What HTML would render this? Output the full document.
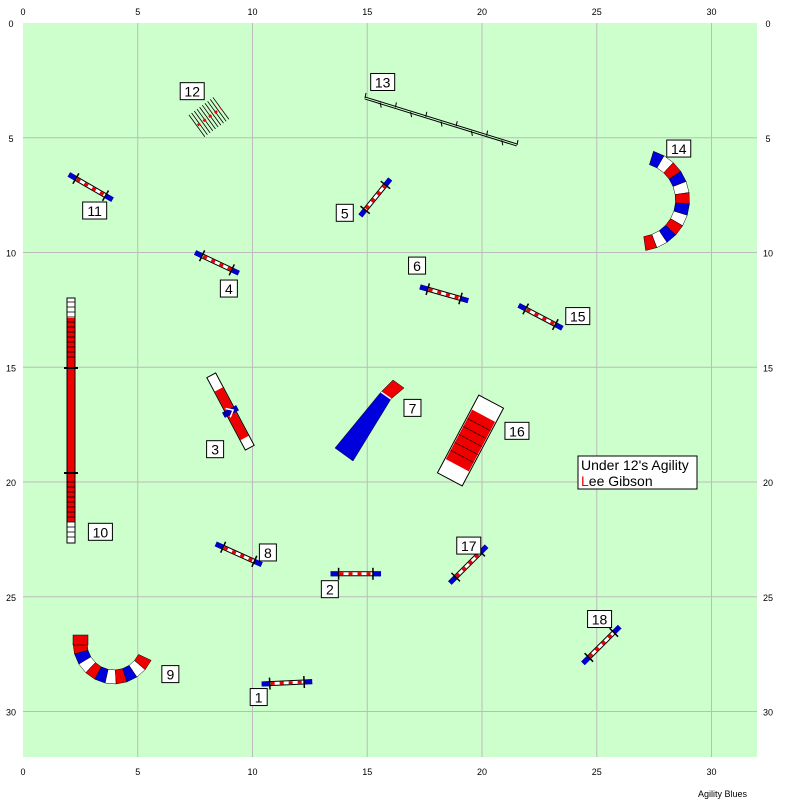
<!DOCTYPE html>
<html><head><meta charset="utf-8"><style>
html,body{margin:0;padding:0;background:#fff;}
svg{display:block;font-family:"Liberation Sans",sans-serif;}
</style></head><body>
<svg id="c" width="800" height="800" viewBox="0 0 800 800">
<rect x="23" y="23" width="734" height="734" fill="#ccffcc"/>
<g id="grid"></g><g id="ticks"></g><g id="obs"></g><g id="labels"></g>
<g>
<rect x="578" y="456" width="119" height="33" fill="#fff" stroke="#000"/>
<text x="581" y="470" font-size="14" fill="#000">Under 12's Agility</text>
<text x="581" y="486" font-size="14" fill="#000"><tspan fill="#e00">L</tspan>ee Gibson</text>
</g>
<text x="698" y="797" font-size="9" fill="#000">Agility Blues</text>
</svg>
<script>
const ticks=[0,5,10,15,20,25,30];
const jumpNums=["11","4","5","6","15","8","2","17","18","1"];
const jumpStart=[[2.0,6.6],[7.5,10.0],[14.7,8.4],[17.3,11.5],[21.6,12.3],[8.4,22.7],[13.4,24.0],[18.6,24.4],[24.4,27.9],[10.4,28.8]];
const jumpEnd=[[3.9,7.7],[9.4,10.9],[16.0,6.8],[19.4,12.1],[23.5,13.3],[10.4,23.6],[15.6,24.0],[20.2,22.8],[26.0,26.3],[12.6,28.7]];
const labelNums=["12","13","14","11","5","4","6","15","3","7","16","10","8","2","17","18","9","1"];
const labelPos=[[6.85,2.6],[15.15,2.2],[28.05,5.1],[2.6,7.8],[13.65,7.9],[8.6,11.2],[16.8,10.2],[23.65,12.4],[8.0,18.2],[16.6,16.4],[21.0,17.4],[2.85,21.8],[10.3,22.7],[13.0,24.3],[18.9,22.4],[24.6,25.6],[6.05,28.0],[9.9,29.0]];
const X0=23,Y0=23,S=22.95;
const sx=v=>X0+v*S, sy=v=>Y0+v*S;
const NS="http://www.w3.org/2000/svg";
function mk(tag,at,par){const e=document.createElementNS(NS,tag);for(const k in at)e.setAttribute(k,at[k]);par.appendChild(e);return e;}
const grid=document.getElementById('grid'),tk=document.getElementById('ticks'),obs=document.getElementById('obs'),lab=document.getElementById('labels');
ticks.forEach(t=>{
 if(t>0){const a=mk('line',{x1:sx(t),x2:sx(t),y1:23,y2:757,stroke:'#bbb'},grid);
 const b=mk('line',{x1:23,x2:757,y1:sy(t),y2:sy(t),stroke:'#bbb'},grid);}
 [[sx(t),15,'middle','x-tick-top'],[sx(t),775,'middle','x-tick-bottom']].forEach(p=>{const e=mk('text',{x:p[0],y:p[1],'font-size':9,'text-anchor':p[2]},tk);e.textContent=t;});
 [[11,'y-tick-left'],[768,'y-tick-right']].forEach(p=>{const e=mk('text',{x:p[0],y:sy(t)+4,'font-size':9,'text-anchor':'middle'},tk);e.textContent=t;});
});
function lerp(a,b,t){return [a[0]+(b[0]-a[0])*t,a[1]+(b[1]-a[1])*t];}
jumpStart.forEach((s,i)=>{
 const e=jumpEnd[i],p1=[sx(s[0]),sy(s[1])],p2=[sx(e[0]),sy(e[1])];
 const g=mk('g',{},obs);
 const L=Math.hypot(p2[0]-p1[0],p2[1]-p1[1]),ux=(p2[0]-p1[0])/L,uy=(p2[1]-p1[1])/L;
 mk('line',{x1:p1[0],y1:p1[1],x2:p2[0],y2:p2[1],stroke:'#000','stroke-width':5},g);
 mk('line',{x1:p1[0],y1:p1[1],x2:p2[0],y2:p2[1],stroke:'#fff','stroke-width':3},g);
 mk('line',{x1:p1[0],y1:p1[1],x2:p2[0],y2:p2[1],stroke:'#e00','stroke-width':3,'stroke-dasharray':'4 5'},g);
 const a=lerp(p1,p2,0.16),b=lerp(p2,p1,0.16);
 mk('line',{x1:p1[0],y1:p1[1],x2:a[0],y2:a[1],stroke:'#0000cc','stroke-width':5},g);
 mk('line',{x1:p2[0],y1:p2[1],x2:b[0],y2:b[1],stroke:'#0000cc','stroke-width':5},g);
 [a,b].forEach(q=>mk('line',{x1:q[0]-uy*6,y1:q[1]+ux*6,x2:q[0]+uy*6,y2:q[1]-ux*6,stroke:'#000','stroke-width':1.5},g));
});
const cols=['#0000dd','#fff','#ee0000'];
function tunnel(name,cx,cy,r,a0,a1,n,start){
 const g=mk('g',{},obs);
 const w=7;
 for(let k=0;k<n;k++){const t0=(a0+(a1-a0)*k/n)*Math.PI/180,t1=(a0+(a1-a0)*(k+1)/n)*Math.PI/180;
  const P=(t,rr)=>[cx+rr*Math.cos(t),cy+rr*Math.sin(t)];
  const pts=[P(t0,r-w),P(t0,r+w),P(t1,r+w),P(t1,r-w)].map(p=>p.join(',')).join(' ');
  mk('polygon',{points:pts,fill:cols[(k+start)%3],stroke:'#000','stroke-width':0.5},g);}
}
tunnel('tunnel-14',638.6,200,44,-73,82,12,0);
tunnel('tunnel-9',114,643,34,180,25,10,2);
(function(){const g=mk('g',{},obs);
mk('rect',{x:73,y:635,width:15,height:10,fill:'#ee0000',stroke:'#000','stroke-width':0.5},g);})();
(function(){const g=mk('g',{},obs);
mk('rect',{x:67,y:298,width:8,height:245,fill:'#fff',stroke:'#000','stroke-width':1},g);
mk('rect',{x:67.5,y:318,width:7,height:204,fill:'#ee0000'},g);
for(let y=302;y<541;y+=5){if(y>360&&y<480)continue;mk('line',{x1:67,x2:75,y1:y,y2:y,stroke:'#000','stroke-width':0.8},g);}
[368,473].forEach(y=>mk('line',{x1:64,x2:78,y1:y,y2:y,stroke:'#000','stroke-width':2},g));})();
(function(){const g=mk('g',{},obs);
const p1=[365,98],p2=[517,145];
mk('line',{x1:p1[0],y1:p1[1],x2:p2[0],y2:p2[1],stroke:'#000','stroke-width':3},g);
mk('line',{x1:p1[0],y1:p1[1],x2:p2[0],y2:p2[1],stroke:'#ccffcc','stroke-width':1},g);
for(let k=0;k<=10;k++){const q=lerp(p1,p2,k/10),d=(k%2?5:-5);mk('line',{x1:q[0],y1:q[1],x2:q[0]+1,y2:q[1]+d,stroke:'#000','stroke-width':1},g);}})();
(function(){const g=mk('g',{transform:'translate(209,117) rotate(-36)'},obs);
for(let k=0;k<10;k++){const x=-15+k*3.3;mk('line',{x1:x,y1:-13.5,x2:x,y2:13.5,stroke:'#000','stroke-width':0.8},g);}
mk('line',{x1:-14,y1:0,x2:15,y2:0,stroke:'#e00','stroke-width':2.5,'stroke-dasharray':'3 4'},g);})();
(function(){const g=mk('g',{transform:'translate(230.5,411.5) rotate(62)'},obs);
mk('rect',{x:-41,y:-5,width:82,height:10,fill:'#fff',stroke:'#000'},g);
mk('rect',{x:-25,y:-4.5,width:55,height:9,fill:'#ee0000'},g);
mk('rect',{x:-3,y:-8,width:6,height:16,fill:'#0000aa'},g);
mk('path',{d:'M-5,3 L0,-3 L5,3',stroke:'#fff',fill:'none','stroke-width':1.5},g);})();
(function(){const g=mk('g',{},obs);
mk('polygon',{points:'335,448 353,461 391,399 381,392',fill:'#0000dd',stroke:'#000','stroke-width':0.5},g);
mk('polygon',{points:'381,392 391,399 404,388 393,380',fill:'#ee0000',stroke:'#000','stroke-width':0.5},g);
mk('line',{x1:381,y1:392,x2:391,y2:399,stroke:'#fff','stroke-width':1.5},g);})();
(function(){const g=mk('g',{transform:'translate(470.5,440.5) rotate(28)'},obs);
mk('rect',{x:-14,y:-44,width:28,height:88,fill:'#fff',stroke:'#000'},g);
mk('rect',{x:-13,y:-28,width:26,height:56,fill:'#ee0000'},g);
for(let k=-2;k<=2;k++)mk('line',{x1:-13,x2:13,y1:k*9,y2:k*9,stroke:'#000','stroke-width':0.6},g);})();
labelPos.forEach((p,i)=>{
 const g=mk('g',{},lab);
 const w=labelNums[i].length>1?24:17;
 mk('rect',{x:sx(p[0]),y:sy(p[1]),width:w,height:17,fill:'#fff',stroke:'#000'},g);
 const t=mk('text',{x:sx(p[0])+w/2,y:sy(p[1])+14,'font-size':14,'text-anchor':'middle'},g);t.textContent=labelNums[i];
});
</script>
</body></html>
